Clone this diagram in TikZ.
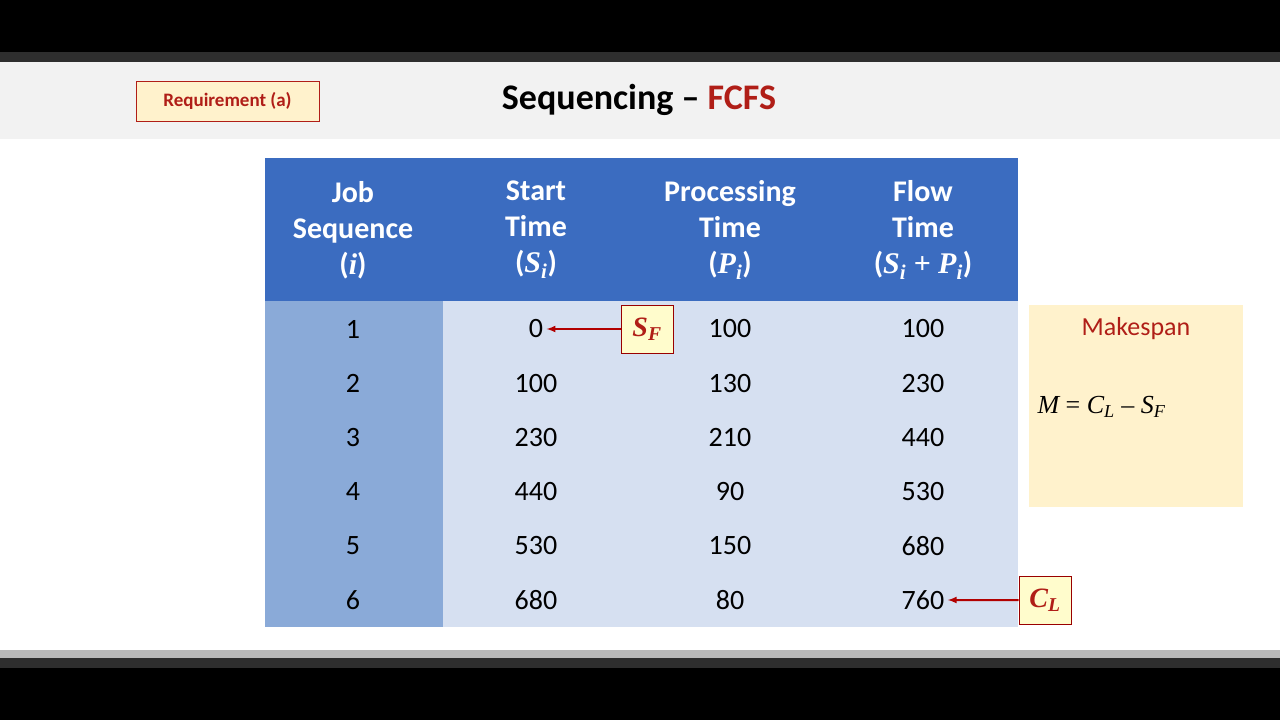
\documentclass[tikz,border=0pt]{standalone}
\usepackage{fontspec}
\setmainfont{Carlito}
\newfontfamily\tmsfont{Liberation Serif}
\begin{document}
\begin{tikzpicture}[x=1pt,y=-1pt,
  hdr/.style={font=\bfseries\fontsize{30}{36}\selectfont,color=white,align=center},
  num/.style={font=\fontsize{28}{30}\selectfont},
  tag/.style={draw=red!60!black,fill=yellow!20,line width=1pt,minimum width=52pt,minimum height=48pt,inner sep=0pt},
  arr/.style={-latex,draw=red!70!black,line width=2pt}]
\definecolor{hblue}{HTML}{3B6CC0}
\definecolor{cblue}{HTML}{8AAAD8}
\definecolor{lblue}{HTML}{D6E0F1}
\definecolor{dred}{HTML}{B01E17}
\definecolor{cream}{HTML}{FFF2CC}
\useasboundingbox (0,0) rectangle (1280,720);
\fill[black] (0,0) rectangle (1280,52);
\fill[black!82] (0,52) rectangle (1280,62);
\fill[black!5] (0,62) rectangle (1280,139);
\fill[white] (0,139) rectangle (1280,650);
\fill[black!27] (0,650) rectangle (1280,658);
\fill[black!82] (0,658) rectangle (1280,668);
\fill[black] (0,668) rectangle (1280,720);
\node[draw=dred,fill=cream,line width=1pt,minimum width=183pt,minimum height=40pt,font=\bfseries\fontsize{19}{22}\selectfont,text=dred] (req) at (227.5,101) {Requirement (a)};
\node[font=\bfseries\fontsize{36}{40}\selectfont] (title) at (639,100) {Sequencing -- \textcolor{dred}{FCFS}};
\fill[hblue] (265,158) rectangle (1018,301);
\fill[cblue] (265,301) rectangle (443,627);
\fill[lblue] (443,301) rectangle (1018,627);
\node[hdr] (h1) at (353,230) {Job\\Sequence\\({\tmsfont\bfseries\itshape i})};
\node[hdr] (h2) at (536,230) {Start\\Time\\({\tmsfont\bfseries\itshape S\textsubscript{i}})};
\node[hdr] (h3) at (730,230) {Processing\\Time\\({\tmsfont\bfseries\itshape P\textsubscript{i}})};
\node[hdr] (h4) at (923,230) {Flow\\Time\\({\tmsfont\bfseries\itshape S\textsubscript{i} + P\textsubscript{i}})};
\foreach \j/\s/\p/\f [count=\r from 0] in {1/0/100/100,2/100/130/230,3/230/210/440,4/440/90/530,5/530/150/680,6/680/80/760}{
  \pgfmathsetmacro\yy{329+54.2*\r}
  \node[num] (j\r) at (353,\yy) {\j};
  \node[num] (s\r) at (536,\yy) {\s};
  \node[num] (p\r) at (730,\yy) {\p};
  \node[num] (f\r) at (923,\yy) {\f};
}
\node[tag,font=\tmsfont\bfseries\itshape\fontsize{28}{30}\selectfont,text=dred] (sf) at (647,329) {S\textsubscript{F}};
\node[tag,font=\tmsfont\bfseries\itshape\fontsize{28}{30}\selectfont,text=dred] (cl) at (1045,600) {C\textsubscript{L}};
\draw[arr] (sf.west) -- (s0.east);
\draw[arr] (cl.west) -- (f5.east);
\fill[cream] (1029,305) rectangle (1243,507);
\node[font=\fontsize{26}{30}\selectfont,text=dred] (mk) at (1136,329) {Makespan};
\node[font=\tmsfont\itshape\fontsize{26}{30}\selectfont,anchor=west] (fm) at (1034,407) {M {\upshape=} C\textsubscript{L} {\upshape–} S\textsubscript{F}};
\end{tikzpicture}
\end{document}
